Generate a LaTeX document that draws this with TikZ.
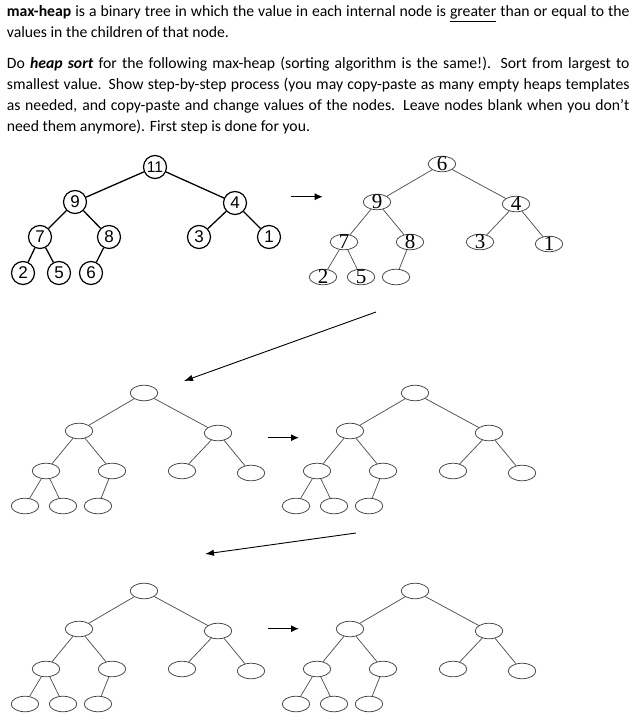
\documentclass[tikz,border=0pt]{standalone}
\usepackage{fontspec}
\setmainfont{Carlito}
\newfontfamily\sansnum{Liberation Sans}
\newfontfamily\serifnum{Liberation Serif}
\usetikzlibrary{shapes.geometric,arrows.meta}
\newcommand\heaptree[3]{%
 \begin{scope}[shift={(#2,#3)}]
 \node[hn] (#1r) at (0,0) {};
 \node[hn] (#1a) at (-65,38) {};
 \node[hn] (#1b) at (74,40) {};
 \node[hn] (#1c) at (-98,78) {};
 \node[hn] (#1d) at (-32,78) {};
 \node[hn] (#1e) at (38,78) {};
 \node[hn] (#1f) at (107,80) {};
 \node[hn] (#1g) at (-119,113) {};
 \node[hn] (#1h) at (-81,113) {};
 \node[hn] (#1i) at (-46,113) {};
 \draw[he] (#1r)--(#1a) (#1r)--(#1b) (#1a)--(#1c) (#1a)--(#1d) (#1b)--(#1e) (#1b)--(#1f) (#1c)--(#1g) (#1c)--(#1h) (#1d)--(#1i);
 \end{scope}}
\tikzset{
 txt/.style={anchor=base west, inner sep=0, font=\fontsize{15.7}{20}\selectfont},
 cn/.style={circle, draw=black, line width=1.2pt, minimum size=23pt, inner sep=0, font=\sansnum\fontsize{17}{17}\selectfont},
 ce/.style={draw=black, line width=1.3pt},
 hn/.style={ellipse, draw=black!75, line width=0.75pt, minimum width=27.5pt, minimum height=15.5pt, inner sep=0},
 he/.style={draw=black!68, line width=0.75pt},
 numb/.style={inner sep=0, font=\serifnum\fontsize{21}{21}\selectfont},
 sarr/.style={draw=black, line width=1.1pt, -{Latex[length=8pt,width=7pt]}},
 larr/.style={draw=black, line width=0.9pt, -{Latex[length=9pt,width=6.5pt]}},
}
\begin{document}
\begin{tikzpicture}[x=1pt,y=-1pt]
\useasboundingbox[fill=white] (0,0) rectangle (642,722);
% text
\node[txt] (l1) at (6.7,16.8) {\makebox[622.6pt][s]{\textbf{max-heap} is a binary tree in which the value in each internal node is \underline{greater} than or equal to the}};
\node[txt] (l2) at (6.7,37.6) {values in the children of that node.};
\node[txt] (l3) at (6.7,68.4) {\makebox[622.6pt][s]{Do \textbf{\textit{heap sort}} for the following max-heap (sorting algorithm is the same!). Sort from largest to}};
\node[txt] (l4) at (6.7,89.5) {\makebox[622.6pt][s]{smallest value. Show step-by-step process (you may copy-paste as many empty heaps templates}};
\node[txt] (l5) at (6.7,110.6) {\makebox[622.6pt][s]{as needed, and copy-paste and change values of the nodes. Leave nodes blank when you don’t}};
\node[txt] (l6) at (6.7,131.7) {need them anymore). First step is done for you.};
% first heap
\node[cn] (a11) at (155,167) {\fontsize{15.5}{15.5}\selectfont 11};
\node[cn] (a9) at (75,202) {9};
\node[cn] (a4) at (235,203) {4};
\node[cn] (a7) at (40,237) {7};
\node[cn] (a8) at (109,237) {8};
\node[cn] (a3) at (199,237) {3};
\node[cn] (a1) at (269,237) {1};
\node[cn] (a2) at (23,273) {2};
\node[cn] (a5) at (59,273) {5};
\node[cn] (a6) at (91,273) {6};
\draw[ce] (a11)--(a9) (a11)--(a4) (a9)--(a7) (a9)--(a8) (a4)--(a3) (a4)--(a1) (a7)--(a2) (a7)--(a5) (a8)--(a6);
% second heap (filled)
\heaptree{B}{442}{164}
\node[numb] (Bl6) at (Br) {6};
\node[numb] (Bl9) at (Ba) {9};
\node[numb] (Bl4) at (Bb) {4};
\node[numb] (Bl7) at (Bc) {7};
\node[numb] (Bl8) at (Bd) {8};
\node[numb] (Bl3) at (Be) {3};
\node[numb] (Bl1) at (Bf) {1};
\node[numb] (Bl2) at (Bg) {2};
\node[numb] (Bl5) at (Bh) {5};
% empty heaps
\heaptree{C}{144}{393}
\heaptree{D}{415}{393}
\heaptree{E}{144}{591}
\heaptree{F}{415}{591}
% arrows
\coordinate (s1a) at (290.7,196.7); \coordinate (s1b) at (322.7,196.7);
\coordinate (s2a) at (268,437.7); \coordinate (s2b) at (299,437.7);
\coordinate (s3a) at (268,628.7); \coordinate (s3b) at (299,628.7);
\draw[sarr] (s1a)--(s1b);
\draw[sarr] (s2a)--(s2b);
\draw[sarr] (s3a)--(s3b);
\coordinate (L1a) at (376,312); \coordinate (L1b) at (184,381);
\coordinate (L2a) at (356,533); \coordinate (L2b) at (205,554);
\draw[larr] (L1a)--(L1b);
\draw[larr] (L2a)--(L2b);
\end{tikzpicture}
\end{document}
